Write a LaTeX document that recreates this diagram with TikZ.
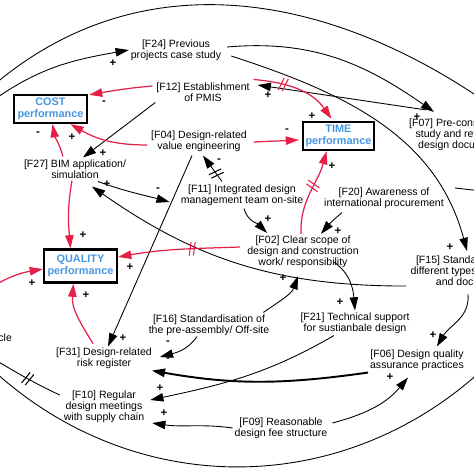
\documentclass[tikz,border=0pt]{standalone}
\usepackage{fontspec}
\setmainfont{Liberation Sans}
\usetikzlibrary{arrows.meta, decorations.markings}
\definecolor{linkred}{RGB}{228,32,72}
\definecolor{perfblue}{RGB}{70,150,225}

\begin{document}
\begin{tikzpicture}[
		x = 0.02cm, y = 0.02cm,
		fac/.style = {align=center, inner sep=1pt, text=black, font=\fontsize{6}{6.3}\selectfont},
		perf/.style = {draw, line width=1.3pt, inner sep=0pt, align=center, text=perfblue, font=\fontsize{6.2}{6.8}\selectfont\bfseries, minimum width=1.46cm, minimum height=0.56cm},
		pm/.style = {inner sep=0pt, font=\fontsize{6.5}{6.5}\selectfont\bfseries},
		conn/.style = {line width=0.5pt},
		cause/.style = {conn, -{Triangle[length=7.5pt, width=4.8pt]}},
		redcause/.style = {cause, color=linkred, line width=0.7pt},
		hashat/.style = {postaction={decorate, decoration={markings, mark=at position #1 with {\draw[-, line width=0.6pt] (-1.8pt,-3.8pt) -- (-0.4pt,3.8pt) (0.6pt,-3.8pt) -- (2pt,3.8pt);}}}}
	]
	\useasboundingbox (0,0) rectangle (474,-474);
	\clip (0,0) rectangle (474,-474);
	%
	\node (cost)    [perf] at (50.5,-109)  {COST\\performance};
	\node (time)    [perf, minimum width=1.42cm] at (338.5,-136) {TIME\\performance};
	\node (quality) [perf, minimum height=0.66cm] at (80.5,-266) {QUALITY\\performance};
	%
	\node (f24) [fac] at (176,-50)  {[F24] Previous\\projects case study};
	\node (f12) [fac] at (203,-92)  {[F12] Establishment\\of PMIS};
	\node (f04) [fac] at (199,-141) {[F04] Design-related\\value engineering};
	\node (f07) [fac] at (461,-135) {[F07] Pre-construction\\study and review of\\design documents};
	\node (f27) [fac] at (75,-169)  {[F27] BIM application/\\simulation};
	\node (f11) [fac] at (242,-195) {[F11] Integrated design\\management team on-site};
	\node (f20) [fac] at (384,-198) {[F20] Awareness of\\international procurement};
	\node (f02) [fac] at (303,-252) {[F02] Clear scope of\\design and construction\\work/ responsibility};
	\node (f15) [fac] at (472,-271) {[F15] Standardisation of\\different types of drawings\\and documents};
	\node (f16) [fac] at (209,-325) {[F16] Standardisation of\\the pre-assembly/ Off-site};
	\node (f21) [fac] at (355,-323) {[F21] Technical support\\for sustianbale design};
	\node (f31) [fac] at (104,-358) {[F31] Design-related\\risk register};
	\node (f06) [fac] at (417,-360) {[F06] Design quality\\assurance practices};
	\node (f10) [fac] at (104,-407) {[F10] Regular\\design meetings\\with supply chain};
	\node (f09) [fac] at (281,-428) {[F09] Reasonable\\design fee structure};
	\node (lcc) [fac, anchor=east] at (14,-338) {cle};
	%
	\coordinate (lin)   at (-5,-99);
	\coordinate (arcl)  at (-5,-84);
	\coordinate (arcr)  at (480,-98);
	\coordinate (lout)  at (-10,-357);
	\coordinate (rin)   at (-5,-285);
	\coordinate (botl)  at (-5,-372);
	\coordinate (botr)  at (480,-372);
	\coordinate (edge1) at (455,-188);
	\coordinate (edge2) at (482,-191);
	%
	\draw[conn] (arcl) to[out=40,in=146] (arcr);
	\draw[conn] (botl) to[out=-42,in=-138] (botr);
	\draw[conn] (edge1) -- (edge2);
	\draw[cause] (lin) to[out=35,in=190] (f24.west);
	\draw[cause] ([shift={(4,3)}]f24.east) to[out=5,in=145] ([shift={(-27,5)}]f07.north);
	\draw[cause] ([shift={(8,-6)}]f24.east) to[out=-18,in=105] ([shift={(-5,3)}]f15.north);
	\draw[cause] ([shift={(-35,7)}]f07.north) -- ([shift={(6,7)}]f12.east);
	\draw[cause] ([shift={(1,1)}]f12.south west) -- ([shift={(8,0)}]f27.north);
	\draw[cause, hashat=0.3] ([shift={(-20,1)}]f11.north) -- ([shift={(4,-2)}]f04.south);
	\draw[cause] ([shift={(23,-1)}]f27.south) to[out=-20,in=165] ([shift={(-9,-7)}]f11.west);
	\draw[cause] ([shift={(-7,-2)}]f04.south) -- ([shift={(4,-1)}]f31.north);
	\draw[cause] ([shift={(-2,2)}]f15.south west) to[out=180,in=-35] ([shift={(17,-6)}]f27.south);
	\draw[cause] ([shift={(2,-1)}]f11.south) to[out=-75,in=135] ([shift={(-36,1)}]f02.north);
	\draw[cause] ([shift={(-42,-2)}]f20.south) to[out=-140,in=50] ([shift={(18,0)}]f02.north);
	\draw[cause] ([shift={(31,8)}]f02.south) to[out=-35,in=95] (f21.north);
	\draw[cause] ([shift={(-8,0)}]f16.north east) to[out=35,in=-110] ([shift={(-5,-6)}]f02.south);
	\draw[cause] ([shift={(-21,0)}]f21.south) to[out=-150,in=12] ([shift={(4,7)}]f10.east);
	\draw[cause, line width=1.1pt] (f06.south west) to[out=188,in=-10] ([shift={(-2,0)}]f31.south east);
	\draw[cause] ([shift={(-12,1)}]f16.south) to[out=-125,in=15] ([shift={(6,1)}]f31.east);
	\draw[cause] (f09.west) to[out=172,in=-8] ([shift={(6,2)}]f10.south east);
	\draw[cause] ([shift={(3,5)}]f09.east) to[out=15,in=-130] ([shift={(-9,-5)}]f06.south);
	\draw[cause] ([shift={(-4,-6)}]f15.south) to[out=-85,in=60] ([shift={(20,1)}]f06.north);
	\draw[conn, hashat=0.45] ([shift={(-2,12)}]f10.west) to[out=155,in=-30] (lout);
	%
	\draw[redcause] ([shift={(-2,6)}]f12.west) to[out=185,in=10] ([shift={(1,-1)}]cost.north east);
	\draw[redcause, hashat=0.33] ([shift={(2,1)}]f12.north east) to[out=-5,in=125] ([shift={(-7,2)}]time.north);
	\draw[redcause] ([shift={(-2,-4)}]f04.west) to[out=180,in=-30] ([shift={(20,0)}]cost.south);
	\draw[redcause] ([shift={(-12,1)}]f27.north) to[out=105,in=-80] ([shift={(2,0)}]cost.south);
	\draw[redcause] ([shift={(5,-1)}]f04.east) -- ([shift={(-3,-4)}]time.west);
	\draw[redcause, hashat=0.57] ([shift={(-2,0)}]f02.north) to[out=92,in=-105] ([shift={(-12,0)}]time.south);
	\draw[redcause, hashat=0.39] ([shift={(-5,5)}]f02.west) to[out=182,in=10] ([shift={(0,9)}]quality.east);
	\draw[redcause] ([shift={(-3,0)}]f27.south) to[out=-100,in=95] ([shift={(-10,0)}]quality.north);
	\draw[redcause] ([shift={(-11,2)}]f31.north) to[out=122,in=-95] ([shift={(-7,0)}]quality.south);
	\draw[redcause] (rin) to[out=30,in=190] ([shift={(0,-3)}]quality.west);
	%
	\node (s1)  [pm] at (113,-63)  {+};
	\node (s2)  [pm] at (104,-103) {-};
	\node (s3)  [pm] at (268,-95)  {+};
	\node (s4)  [pm] at (38,-134)  {-};
	\node (s5)  [pm] at (72,-137)  {+};
	\node (s6)  [pm] at (103,-153) {+};
	\node (s7)  [pm] at (312,-116) {+};
	\node (s8)  [pm] at (287,-131) {-};
	\node (s9)  [pm] at (219,-161) {-};
	\node (s10) [pm] at (107,-184) {+};
	\node (s11) [pm] at (158,-190) {-};
	\node (s12) [pm] at (417,-117) {+};
	\node (s13) [pm] at (332,-166) {+};
	\node (s14) [pm] at (268,-219) {+};
	\node (s15) [pm] at (338,-231) {+};
	\node (s16) [pm] at (450,-247) {+};
	\node (s17) [pm] at (83,-235)  {+};
	\node (s18) [pm] at (130,-267) {+};
	\node (s19) [pm] at (32,-283)  {+};
	\node (s20) [pm] at (86,-295)  {+};
	\node (s21) [pm] at (283,-278) {+};
	\node (s22) [pm] at (340,-302) {+};
	\node (s23) [pm] at (433,-335) {+};
	\node (s24) [pm] at (123,-338) {+};
	\node (s25) [pm] at (168,-343) {-};
	\node (s26) [pm] at (168,-360) {-};
	\node (s27) [pm] at (160,-388) {+};
	\node (s28) [pm] at (164,-413) {+};
	\node (s29) [pm] at (390,-377) {+};
\end{tikzpicture}
\end{document}
